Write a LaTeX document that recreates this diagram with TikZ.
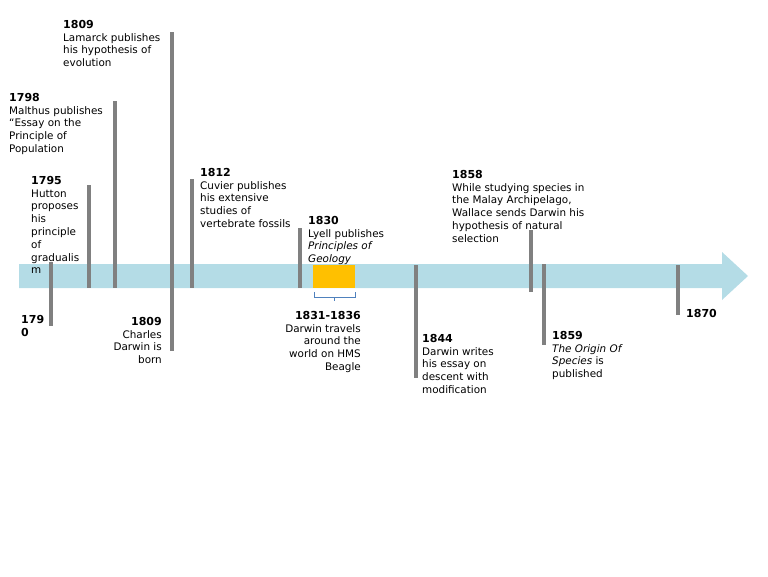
\documentclass[tikz,border=0pt]{standalone}
\usepackage{fontspec}
\setmainfont{DejaVu Sans}
\usetikzlibrary{decorations.pathreplacing}
\definecolor{band}{HTML}{B4DCE6}
\definecolor{tick}{HTML}{808080}
\definecolor{gold}{HTML}{FFC000}
\definecolor{brace}{HTML}{4F81BD}
\newcommand{\yr}[1]{{\fontsize{11}{13}\selectfont\textbf{#1}}}
\begin{document}
\begin{tikzpicture}[x=1pt,y=-1pt,
  tk/.style={draw=tick,line width=3.2pt},
  lbl/.style={anchor=north west,align=left,inner sep=0pt,font=\fontsize{10.4}{12.8}\selectfont},
  lblr/.style={anchor=north east,align=right,inner sep=0pt,font=\fontsize{10.4}{12.8}\selectfont}]
\useasboundingbox (0,0) rectangle (768,576);
\fill[band] (19,264) -- (722,264) -- (722,252) -- (748,276) -- (722,300) -- (722,288) -- (19,288) -- cycle;
\node[fill=gold,minimum width=42pt,minimum height=23pt,inner sep=0pt,anchor=north west] (beagle) at (313,265) {};
\draw[brace,line width=0.8pt] (314,292) -- (314,297) -- (355,297) -- (355,292) (334.5,297) -- (334.5,301);
% ticks
\coordinate (a1) at (51,262); \coordinate (a2) at (51,326); \draw[tk] (a1) -- (a2);
\coordinate (b1) at (89,185); \coordinate (b2) at (89,288); \draw[tk] (b1) -- (b2);
\coordinate (c1) at (115,101); \coordinate (c2) at (115,288); \draw[tk] (c1) -- (c2);
\coordinate (d1) at (172,32); \coordinate (d2) at (172,351); \draw[tk] (d1) -- (d2);
\coordinate (e1) at (192,179); \coordinate (e2) at (192,288); \draw[tk] (e1) -- (e2);
\coordinate (f1) at (300,228); \coordinate (f2) at (300,288); \draw[tk] (f1) -- (f2);
\coordinate (g1) at (416,265); \coordinate (g2) at (416,378); \draw[tk] (g1) -- (g2);
\coordinate (h1) at (531,230); \coordinate (h2) at (531,292); \draw[tk] (h1) -- (h2);
\coordinate (i1) at (544,264); \coordinate (i2) at (544,345); \draw[tk] (i1) -- (i2);
\coordinate (j1) at (678,265); \coordinate (j2) at (678,315); \draw[tk] (j1) -- (j2);
% labels
\node[lbl] (t1790) at (21,315) {\yr{179}\\\yr{0}};
\node[lbl] (t1795) at (31,176) {\yr{1795}\\Hutton\\proposes\\his\\principle\\of\\gradualis\\m};
\node[lbl] (t1798) at (9,93) {\yr{1798}\\Malthus publishes\\“Essay on the\\Principle of\\Population};
\node[lbl] (t1809a) at (63,20) {\yr{1809}\\Lamarck publishes\\his hypothesis of\\evolution};
\node[lblr] (t1809b) at (162,317) {\yr{1809}\\Charles\\Darwin is\\born};
\node[lbl] (t1812) at (200,168) {\yr{1812}\\Cuvier publishes\\his extensive\\studies of\\vertebrate fossils};
\node[lbl] (t1830) at (308,216) {\yr{1830}\\Lyell publishes\\\textit{Principles of}\\\textit{Geology}};
\node[lblr] (t1831) at (361,311) {\yr{1831-1836}\\Darwin travels\\around the\\world on HMS\\Beagle};
\node[lbl] (t1844) at (422,334) {\yr{1844}\\Darwin writes\\his essay on\\descent with\\modification};
\node[lbl] (t1858) at (452,170) {\yr{1858}\\While studying species in\\the Malay Archipelago,\\Wallace sends Darwin his\\hypothesis of natural\\selection};
\node[lbl] (t1859) at (552,331) {\yr{1859}\\\textit{The Origin Of}\\\textit{Species} is\\published};
\node[lbl] (t1870) at (686,309) {\yr{1870}};
\end{tikzpicture}
\end{document}
